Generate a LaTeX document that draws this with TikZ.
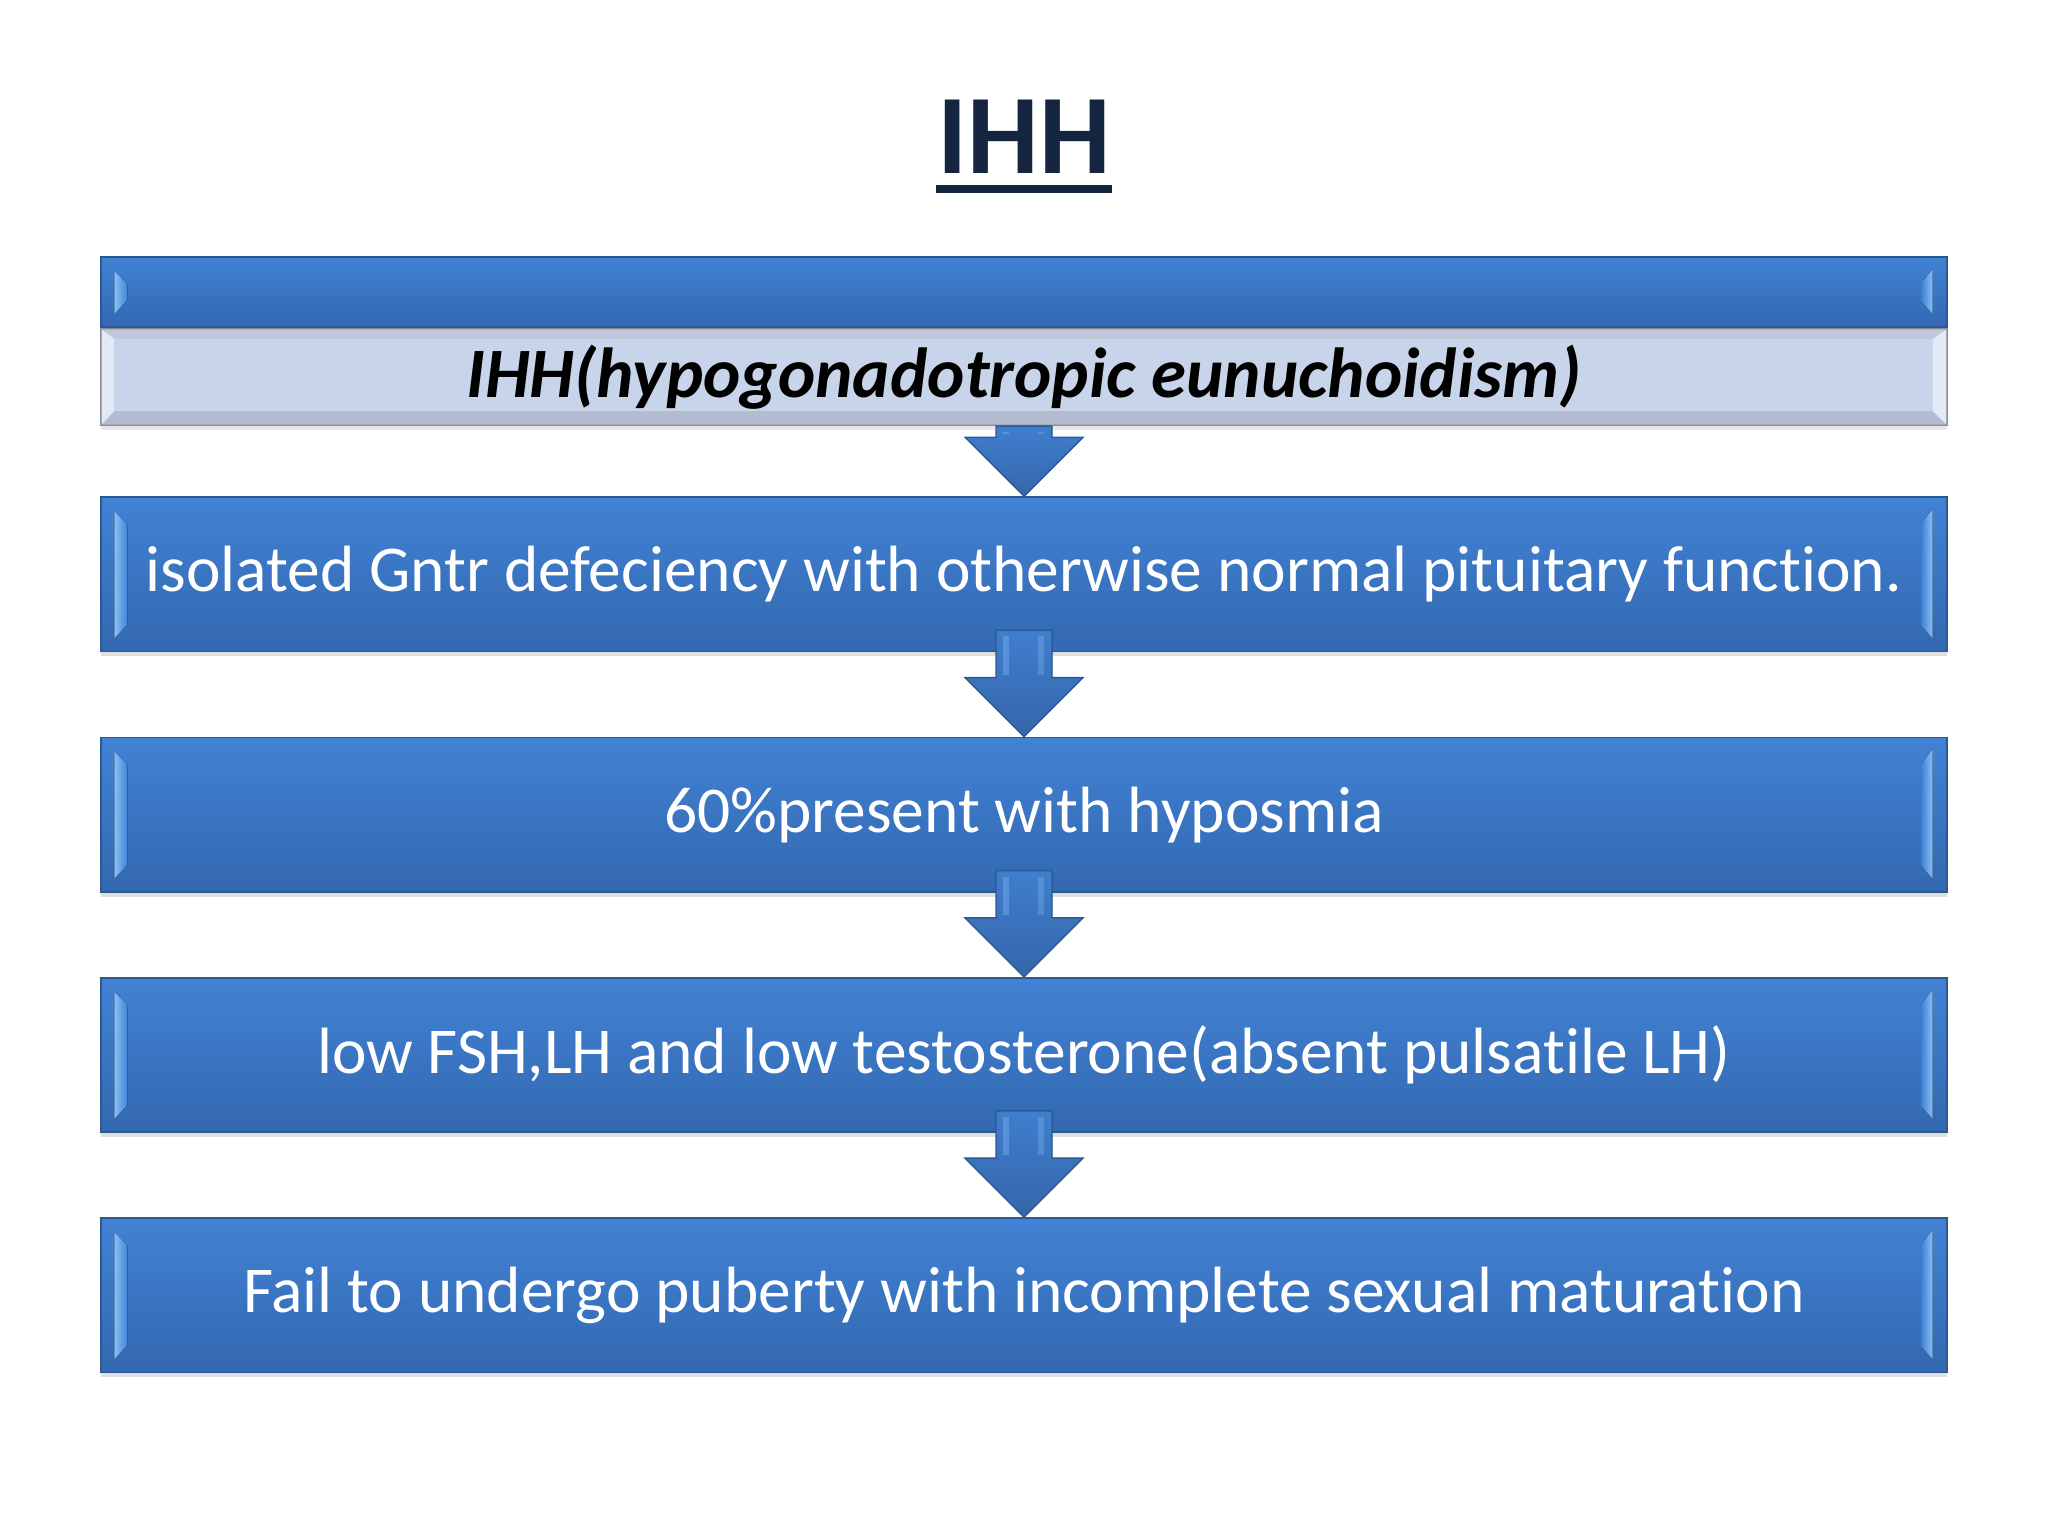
\documentclass[tikz,border=0pt]{standalone}
\usepackage{fontspec}
\setmainfont{Carlito}[Ligatures={NoCommon}]
\usetikzlibrary{positioning,calc,shadows}
\definecolor{ihhnavy}{RGB}{21,36,63}
\definecolor{boxtop}{RGB}{66,130,212}
\definecolor{boxbot}{RGB}{50,104,176}
\definecolor{boxline}{RGB}{43,89,148}
\definecolor{bevlight}{RGB}{135,194,245}
\definecolor{arrowtop}{RGB}{64,126,206}
\definecolor{arrowbot}{RGB}{52,102,170}
\definecolor{barfill}{RGB}{200,212,233}
\definecolor{barline}{RGB}{135,140,150}
\definecolor{bartop}{RGB}{191,201,219}
\definecolor{bardark}{RGB}{179,189,207}
\definecolor{barlight}{RGB}{226,234,244}

\newcommand\bevel[1]{%
  \fill[left color=bevlight,right color=boxtop] ($(#1.north west)+(14,15)$) -- ($(#1.north west)+(27,28)$) -- ($(#1.south west)+(27,-28)$) -- ($(#1.south west)+(14,-14)$) -- cycle;
  \fill[left color=boxtop,right color=bevlight] ($(#1.north east)+(-26,26)$) -- ($(#1.north east)+(-15,13)$) -- ($(#1.south east)+(-15,-14)$) -- ($(#1.south east)+(-26,-26)$) -- cycle;}
\newcommand\barbevel[1]{%
  \fill[bartop] ($(#1.north west)+(1.5,1.5)$) -- ($(#1.north east)+(-1.5,1.5)$) -- ($(#1.north east)+(-15,11)$) -- ($(#1.north west)+(14,11)$) -- cycle;
  \fill[bardark] ($(#1.south west)+(1.5,-1.5)$) -- ($(#1.south east)+(-1.5,-1.5)$) -- ($(#1.south east)+(-15,-15)$) -- ($(#1.south west)+(14,-15)$) -- cycle;
  \fill[barlight] ($(#1.north west)+(1.5,1.5)$) -- ($(#1.north west)+(14,11)$) -- ($(#1.south west)+(14,-15)$) -- ($(#1.south west)+(1.5,-1.5)$) -- cycle;
  \fill[barlight] ($(#1.north east)+(-1.5,1.5)$) -- ($(#1.north east)+(-15,11)$) -- ($(#1.south east)+(-15,-15)$) -- ($(#1.south east)+(-1.5,-1.5)$) -- cycle;}
\newcommand\flowarrow[3]{%
  \filldraw[arrowbox] ($(#1.south)+(-28,#3)$) -- ($(#1.south)+(28,#3)$) -- ($(#2.north)+(28,-59)$) -- ($(#2.north)+(59,-59)$) -- (#2.north) -- ($(#2.north)+(-59,-59)$) -- ($(#2.north)+(-28,-59)$) -- cycle;
  \fill[bevlight,opacity=0.35] ($(#1.south)+(-21,#3+6)$) rectangle ($(#2.north)+(-15,-62)$);
  \fill[bevlight,opacity=0.3] ($(#1.south)+(14,#3+6)$) rectangle ($(#2.north)+(20,-62)$);}

\begin{document}
\begin{tikzpicture}[x=0.01240234cm,y=-0.01240234cm,
    bluebox/.style={draw=boxline,line width=0.6pt,top color=boxtop,bottom color=boxbot,
      minimum width=22.895cm,minimum height=1.915cm,inner sep=0pt,text=white,
      font=\fontsize{23.1}{27}\selectfont,
      drop shadow={shadow xshift=0pt,shadow yshift=-0.06cm,opacity=0.25}},
    stripbox/.style={bluebox,minimum height=0.87cm},
    barbox/.style={draw=barline,line width=0.8pt,fill=barfill,minimum width=22.895cm,
      minimum height=1.19cm,inner sep=0pt,
      drop shadow={shadow xshift=0pt,shadow yshift=-0.06cm,opacity=0.2}},
    bartext/.style={font=\fontsize{25}{30}\selectfont\bfseries\itshape,text=black},
    arrowbox/.style={draw=boxline,line width=0.5pt,top color=arrowtop,bottom color=arrowbot}]
  \useasboundingbox (0,0) rectangle (2048,1536);
  \node[anchor=base,inner sep=0pt,font=\fontsize{40}{48}\selectfont\bfseries,text=ihhnavy] (title) at (1024,173) {IHH};
  \draw[ihhnavy,line width=0.087cm] ($(title.base west)+(-1,16)$) -- ($(title.base east)+(1,16)$);
  \node[stripbox] (strip) at (1024,292) {};
  \bevel{strip}
  \node[barbox,below=0pt of strip] (hbar) {};
  \barbevel{hbar}
  \node[bartext] (hbartext) at (hbar) {IHH(hypogonadotropic eunuchoidism)};
  \node[bluebox,below=0.87cm of hbar] (gntr) {isolated Gntr defeciency with otherwise normal pituitary function.};
  \node[bluebox,below=1.045cm of gntr] (smell) {60\%present with hyposmia};
  \node[bluebox,below=1.045cm of smell] (horm) {low FSH,LH and low testosterone(absent pulsatile LH)};
  \node[bluebox,below=1.045cm of horm] (pub) {Fail to undergo puberty with incomplete sexual maturation};
  \foreach \n in {gntr,smell,horm,pub} {\bevel{\n}}
  \flowarrow{hbar}{gntr}{0}
  \flowarrow{gntr}{smell}{-22}
  \flowarrow{smell}{horm}{-22}
  \flowarrow{horm}{pub}{-22}
\end{tikzpicture}
\end{document}
